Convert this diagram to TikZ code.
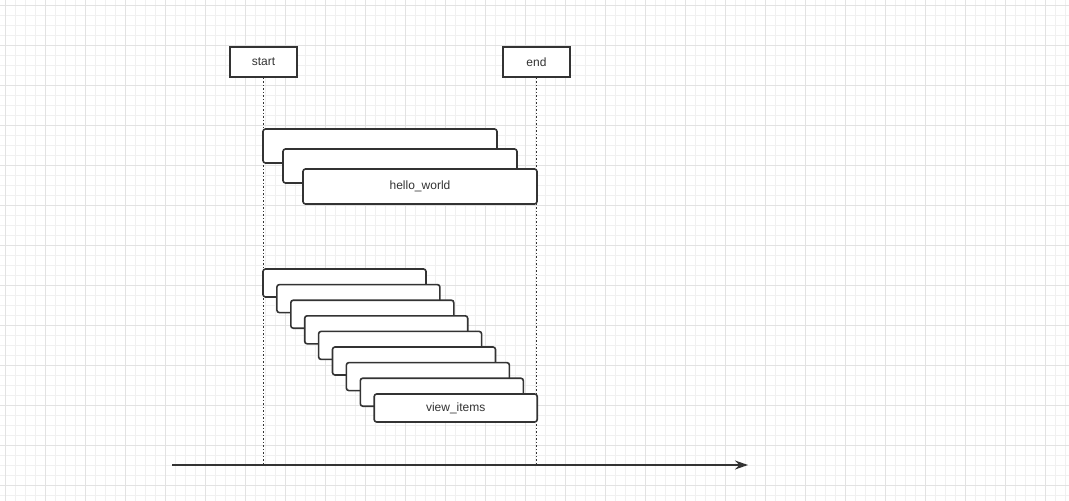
\documentclass[tikz,border=0pt]{standalone}
\usepackage{fontspec}
\setmainfont{Liberation Sans}
\usetikzlibrary{arrows.meta}
\definecolor{ink}{HTML}{333333}
\definecolor{gridminor}{HTML}{F0F0F0}
\definecolor{gridmajor}{HTML}{E2E2E2}
\begin{document}
\begin{tikzpicture}[x=1pt,y=-1pt,
  lbl/.style={draw=ink,line width=1.5pt,fill=white,minimum width=67pt,minimum height=30pt,inner sep=0pt,font=\fontsize{12}{12}\selectfont,text=ink},
  bar/.style={draw=ink,line width=1.6pt,fill=white,rounded corners=2.5pt,inner sep=0pt,font=\fontsize{12}{12}\selectfont,text=ink},
  life/.style={ink,line width=1.5pt,dotted},
]
\useasboundingbox (0,0) rectangle (1069,501);
\fill[white] (0,0) rectangle (1069,501);
\foreach \i in {0,10,...,1060} \draw[gridminor,line width=0.6pt] (\i+5,0) -- (\i+5,501);
\foreach \j in {0,10,...,500} \draw[gridminor,line width=0.6pt] (0,\j+5) -- (1069,\j+5);
\foreach \i in {0,40,...,1060} \draw[gridmajor,line width=0.6pt] (\i+5,0) -- (\i+5,501);
\foreach \j in {0,40,...,500} \draw[gridmajor,line width=0.6pt] (0,\j+5) -- (1069,\j+5);

\node[lbl] (start) at (263.5,62) {start};
\node[lbl] (end) at (536.5,62) {end};
\coordinate (sb) at (263.5,465);
\coordinate (eb) at (536.5,465);
\draw[life] (start.south) -- (sb);
\draw[life] (end.south) -- (eb);

\node[bar,minimum width=234pt,minimum height=34pt] (h1) at (380,146) {};
\node[bar,minimum width=234pt,minimum height=34pt] (h2) at (400,166) {};
\node[bar,minimum width=234pt,minimum height=35pt] (h3) at (420,186.5) {hello\_world};

\foreach \k in {0,...,7} {
  \node[bar,minimum width=163pt,minimum height=28pt] (v\k) at (344.5+13.9*\k,283+15.6*\k) {};
}
\node[bar,minimum width=163pt,minimum height=28pt] (v8) at (455.7,408) {view\_items};

\coordinate (a0) at (172,465);
\coordinate (a1) at (748,465);
\draw[ink,line width=1.6pt,-{Stealth[length=13pt,width=9pt]}] (a0) -- (a1);
\end{tikzpicture}
\end{document}
